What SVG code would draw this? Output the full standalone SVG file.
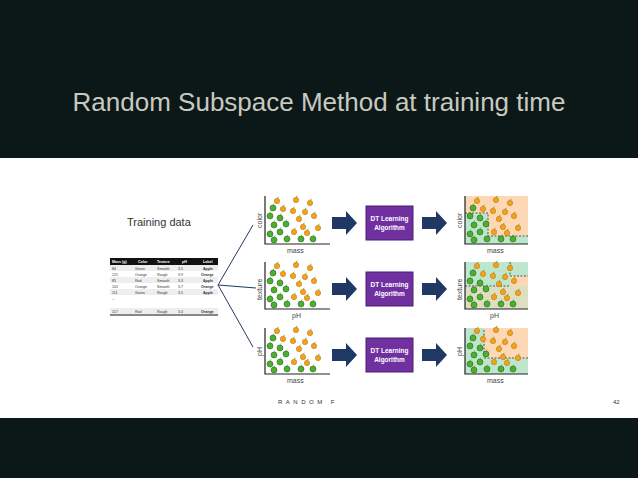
<svg xmlns="http://www.w3.org/2000/svg" xmlns:xlink="http://www.w3.org/1999/xlink" width="638" height="478" viewBox="0 0 638 478">
<style>
text{font-family:"Liberation Sans",Arial,sans-serif}
.ax{stroke:#222;stroke-width:1.2;fill:none}
.al{font-size:7px;fill:#444}
.box{fill:#7030a0;stroke:#4a1f70;stroke-width:1}
.bt{font-size:6.5px;fill:#fff;font-weight:bold;text-anchor:middle}
.arr{fill:#1f3864}
.ln{stroke:#1f3864;stroke-width:1;fill:none}
.tt{font-size:3.6px;fill:#333}
.dash{stroke:#333;stroke-width:0.8;stroke-dasharray:2,1.5;fill:none}
</style>
<defs>
<g id="g"><circle r="3" fill="#4caf30" stroke="#2a6b1a" stroke-width="0.6"/><path d="M0-3 l1-1.5" stroke="#5a3" stroke-width="0.8"/></g>
<g id="o"><circle r="2.7" fill="#f4a21c" stroke="#b8700a" stroke-width="0.5"/><path d="M0-3 l1.5-1" stroke="#4a3" stroke-width="0.8"/></g>
<g id="A"><path d="M0 -6 H14 V-12 L25 0 L14 12 V6 H0 Z"/></g>
<g id="cloud">
<use xlink:href="#o" x="12" y="-43"/><use xlink:href="#o" x="31" y="-44"/><use xlink:href="#o" x="45" y="-41"/>
<use xlink:href="#g" x="8" y="-36"/><use xlink:href="#o" x="18" y="-35"/><use xlink:href="#o" x="28" y="-33"/><use xlink:href="#o" x="40" y="-32"/>
<use xlink:href="#g" x="5" y="-28"/><use xlink:href="#g" x="15" y="-26"/><use xlink:href="#o" x="34" y="-25"/><use xlink:href="#o" x="49" y="-28"/>
<use xlink:href="#g" x="9" y="-19"/><use xlink:href="#g" x="21" y="-20"/><use xlink:href="#o" x="38" y="-17"/><use xlink:href="#o" x="53" y="-16"/>
<use xlink:href="#g" x="5" y="-10"/><use xlink:href="#g" x="15" y="-12"/><use xlink:href="#o" x="29" y="-12"/><use xlink:href="#o" x="42" y="-11"/>
<use xlink:href="#g" x="9" y="-4"/><use xlink:href="#g" x="22" y="-5"/><use xlink:href="#g" x="36" y="-5"/><use xlink:href="#g" x="48" y="-5"/>
</g>
</defs>
<rect width="638" height="478" fill="#0c1818"/>
<rect y="158" width="638" height="260" fill="#ffffff"/>
<text x="319" y="111" font-size="26" fill="#c9c9c0" text-anchor="middle" font-family="'Open Sans','Noto Sans',sans-serif">Random Subspace Method at training time</text>

<g id="training">
<text x="127" y="226" font-size="11" fill="#333">Training data</text>
<rect x="110" y="258" width="108" height="7" fill="#111"/>
<g font-size="3.6px" fill="#fff" font-weight="bold"><text x="112" y="263">Mass (g)</text><text x="138" y="263">Color</text><text x="157" y="263">Texture</text><text x="182" y="263">pH</text><text x="203" y="263">Label</text></g>
<rect x="110" y="265" width="108" height="6" fill="#eee"/><rect x="110" y="277" width="108" height="6" fill="#eee"/><rect x="110" y="289" width="108" height="6" fill="#eee"/><rect x="110" y="308" width="108" height="6" fill="#eee"/>
<g class="tt"><text x="112" y="269.5">84</text><text x="135" y="269.5">Green</text><text x="157" y="269.5">Smooth</text><text x="178" y="269.5">3.5</text><text x="203" y="269.5" font-weight="bold">Apple</text>
<text x="112" y="275.5">121</text><text x="135" y="275.5">Orange</text><text x="157" y="275.5">Rough</text><text x="178" y="275.5">3.9</text><text x="201" y="275.5" font-weight="bold">Orange</text>
<text x="112" y="281.5">85</text><text x="135" y="281.5">Red</text><text x="157" y="281.5">Smooth</text><text x="178" y="281.5">3.3</text><text x="203" y="281.5" font-weight="bold">Apple</text>
<text x="112" y="287.5">101</text><text x="135" y="287.5">Orange</text><text x="157" y="287.5">Smooth</text><text x="178" y="287.5">3.7</text><text x="201" y="287.5" font-weight="bold">Orange</text>
<text x="112" y="293.5">111</text><text x="135" y="293.5">Green</text><text x="157" y="293.5">Rough</text><text x="178" y="293.5">3.5</text><text x="203" y="293.5" font-weight="bold">Apple</text>
<text x="112" y="300">...</text>
<text x="112" y="312.5">117</text><text x="135" y="312.5">Red</text><text x="157" y="312.5">Rough</text><text x="178" y="312.5">3.4</text><text x="201" y="312.5" font-weight="bold">Orange</text></g>
<line x1="110" y1="315" x2="218" y2="315" stroke="#111" stroke-width="1"/>
</g>

<g id="connectors">
<path class="ln" d="M218 285 L253 225"/><path class="ln" d="M218 285 L256 288"/><path class="ln" d="M218 285 L253 347"/>
<use xlink:href="#A" class="arr" x="332" y="223"/><use xlink:href="#A" class="arr" x="422" y="223"/>
<use xlink:href="#A" class="arr" x="332" y="289"/><use xlink:href="#A" class="arr" x="422" y="289"/>
<use xlink:href="#A" class="arr" x="332" y="355"/><use xlink:href="#A" class="arr" x="422" y="355"/>
</g>

<g id="plot1"><use xlink:href="#cloud" x="265" y="244"/><path class="ax" d="M265 196 V244 H330"/><text class="al" transform="translate(262,228) rotate(-90)">color</text><text class="al" x="287" y="253">mass</text></g>
<g id="plot2"><use xlink:href="#cloud" x="265" y="309"/><path class="ax" d="M265 262 V309 H330"/><text class="al" transform="translate(262,300) rotate(-90)">texture</text><text class="al" x="292" y="318">pH</text></g>
<g id="plot3"><use xlink:href="#cloud" x="265" y="374"/><path class="ax" d="M265 328 V374 H330"/><text class="al" transform="translate(262,356) rotate(-90)">pH</text><text class="al" x="287" y="383">mass</text></g>

<g id="dt1"><rect class="box" x="366" y="206" width="47" height="34"/><text class="bt" x="389.5" y="221">DT Learning</text><text class="bt" x="389.5" y="230">Algorithm</text></g>
<g id="dt2"><rect class="box" x="366" y="272" width="47" height="34"/><text class="bt" x="389.5" y="287">DT Learning</text><text class="bt" x="389.5" y="296">Algorithm</text></g>
<g id="dt3"><rect class="box" x="366" y="338" width="47" height="34"/><text class="bt" x="389.5" y="353">DT Learning</text><text class="bt" x="389.5" y="362">Algorithm</text></g>

<g id="res1"><rect x="465" y="196" width="63" height="48" fill="#fcd9b4"/><path d="M465 213 H488 V236 H528 V244 H465Z" fill="#bde6cc"/><path class="dash" d="M465 213 H488 V236 H528"/><use xlink:href="#cloud" x="465" y="244"/><path class="ax" d="M465 196 V244 H528"/><text class="al" transform="translate(462,228) rotate(-90)">color</text><text class="al" x="487" y="253">mass</text></g>
<g id="res2"><rect x="465" y="262" width="63" height="47" fill="#fcd9b4"/><path d="M465 262 H528 V276 H510 V286 H465Z" fill="#bde6cc"/><rect x="465" y="286" width="63" height="23" fill="#bde6cc" opacity="0.5"/><path class="dash" d="M510 262 V276 H528 M465 286 H510"/><use xlink:href="#cloud" x="465" y="309"/><path class="ax" d="M465 262 V309 H528"/><text class="al" transform="translate(462,300) rotate(-90)">texture</text><text class="al" x="490" y="318">pH</text></g>
<g id="res3"><rect x="465" y="328" width="63" height="46" fill="#fcd9b4"/><path d="M465 328 H484 V358 H528 V374 H465Z" fill="#bde6cc"/><path class="dash" d="M484 330 V358 H528"/><use xlink:href="#cloud" x="465" y="374"/><path class="ax" d="M465 328 V374 H528"/><text class="al" transform="translate(462,356) rotate(-90)">pH</text><text class="al" x="487" y="383">mass</text></g>

<text x="278" y="404" font-size="6" fill="#333" letter-spacing="3.5" font-family="'Open Sans',sans-serif">RANDOM F</text>
<text x="613" y="404" font-size="6" fill="#333" font-family="'Open Sans',sans-serif">42</text>
</svg>
